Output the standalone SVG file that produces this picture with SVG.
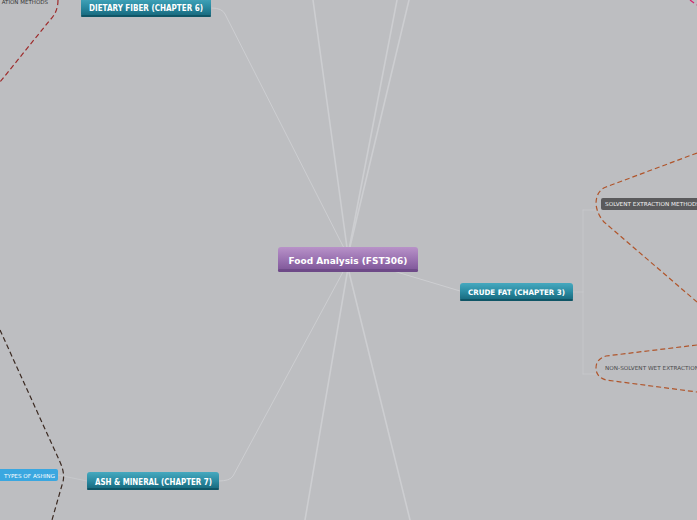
<svg xmlns="http://www.w3.org/2000/svg" width="697" height="520" viewBox="0 0 697 520">
<defs>
<linearGradient id="gTeal" x1="0" y1="0" x2="0" y2="1">
<stop offset="0" stop-color="#46a9bf"/><stop offset="0.5" stop-color="#2a8aa1"/><stop offset="1" stop-color="#156478"/>
</linearGradient>
<linearGradient id="gPurple" x1="0" y1="0" x2="0" y2="1">
<stop offset="0" stop-color="#b892c8"/><stop offset="0.5" stop-color="#9a72b1"/><stop offset="1" stop-color="#7a5395"/>
</linearGradient>
<style>
.main{font-family:"DejaVu Sans",Verdana,sans-serif;font-weight:bold;fill:#ffffff}
.sub{font-family:"DejaVu Sans",Verdana,sans-serif;font-size:5.5px}
.link{fill:none;stroke:#cdced1;stroke-linecap:round}
.bound{fill:none;stroke-width:1.2;stroke-dasharray:5,3}
</style>
</defs>
<rect width="697" height="520" fill="#bdbec1"/>
<g id="connectors">
<path class="link" stroke-width="1.6" d="M348,255 L313,0"/>
<path class="link" stroke-width="1.6" d="M348,255 L397,0"/>
<path class="link" stroke-width="1.6" d="M348,255 L409,0"/>
<path class="link" stroke-width="1" d="M345,250 L225,14 Q222,8 212,8"/>
<path class="link" stroke-width="1" d="M390,270 L460,291"/>
<path class="link" stroke-width="1.6" d="M348,268 L305,520"/>
<path class="link" stroke-width="1.6" d="M348,268 L410,520"/>
<path class="link" stroke-width="1" d="M343,272 L233,476 Q230,481 219,481"/>
<path class="link" stroke-width="0.6" stroke="#c6c7ca" d="M572,292 L583,292 M583,210 L583,374 M583,210 L601,210 M583,374 L601,374"/>
<path class="link" stroke-width="0.6" stroke="#c6c7ca" d="M58,475 L87,481"/>
</g>
<g id="boundaries">
<path class="bound" stroke="#b0552b" d="M697,153 L606,187 Q596,191 596,204 Q597,214 604,222 L697,302"/>
<path class="bound" stroke="#b0552b" d="M697,345 L606,356 Q596,359 596,368 Q596,377 606,380 L697,392"/>
<path class="bound" stroke="#9e2b2b" d="M58,0 Q58,12 50,20 L0,82"/>
<path class="bound" stroke="#3b2a22" d="M0,330 L60,462 Q66,475 62,485 L52,520"/>
<path class="bound" stroke="#d6246e" stroke-width="1.4" d="M690,0 L697,5"/>
</g>
<g id="node-center">
<rect x="278" y="247" width="140" height="25" rx="3" fill="url(#gPurple)"/>
<rect x="278" y="269" width="140" height="3" rx="1.5" fill="#6e4a88"/>
<text class="main" x="348" y="264" font-size="9.5" text-anchor="middle" textLength="119" lengthAdjust="spacingAndGlyphs">Food Analysis (FST306)</text>
</g>
<g id="node-dietary">
<rect x="81" y="-3" width="130" height="20" rx="3" fill="url(#gTeal)"/>
<rect x="81" y="15" width="130" height="2" rx="1" fill="#0f5566"/>
<text class="main" x="146" y="11" font-size="8" text-anchor="middle" textLength="114" lengthAdjust="spacingAndGlyphs">DIETARY FIBER (CHAPTER 6)</text>
</g>
<g id="node-crudefat">
<rect x="460" y="283" width="113" height="18" rx="3" fill="url(#gTeal)"/>
<rect x="460" y="299" width="113" height="2" rx="1" fill="#0f5566"/>
<text class="main" x="516.5" y="295" font-size="7.5" text-anchor="middle" textLength="97" lengthAdjust="spacingAndGlyphs">CRUDE FAT (CHAPTER 3)</text>
</g>
<g id="node-ash">
<rect x="87" y="472" width="132" height="18" rx="3" fill="url(#gTeal)"/>
<rect x="87" y="488" width="132" height="2" rx="1" fill="#0f5566"/>
<text class="main" x="153.5" y="484.5" font-size="8" text-anchor="middle" textLength="117" lengthAdjust="spacingAndGlyphs">ASH &amp; MINERAL (CHAPTER 7)</text>
</g>
<g id="node-solvent">
<rect x="601" y="198" width="100" height="12" rx="2" fill="#5a5a5c"/>
<text class="sub" x="605" y="206" fill="#f2f2f2" font-size="6" textLength="95" lengthAdjust="spacingAndGlyphs">SOLVENT EXTRACTION METHODS</text>
</g>
<g id="node-nonsolvent">
<text class="sub" x="605" y="370" fill="#4a4a4c" font-size="6" textLength="94" lengthAdjust="spacingAndGlyphs">NON-SOLVENT WET EXTRACTION</text>
</g>
<g id="node-ashing">
<rect x="-3" y="469" width="61" height="12" rx="2" fill="#3aa7e0"/>
<text class="sub" x="4" y="477.5" fill="#ffffff" textLength="51" lengthAdjust="spacingAndGlyphs">TYPES OF ASHING</text>
</g>
<g id="node-methods">
<text class="sub" x="48" y="4" fill="#333333" text-anchor="end">ATION METHODS</text>
</g>
</svg>
